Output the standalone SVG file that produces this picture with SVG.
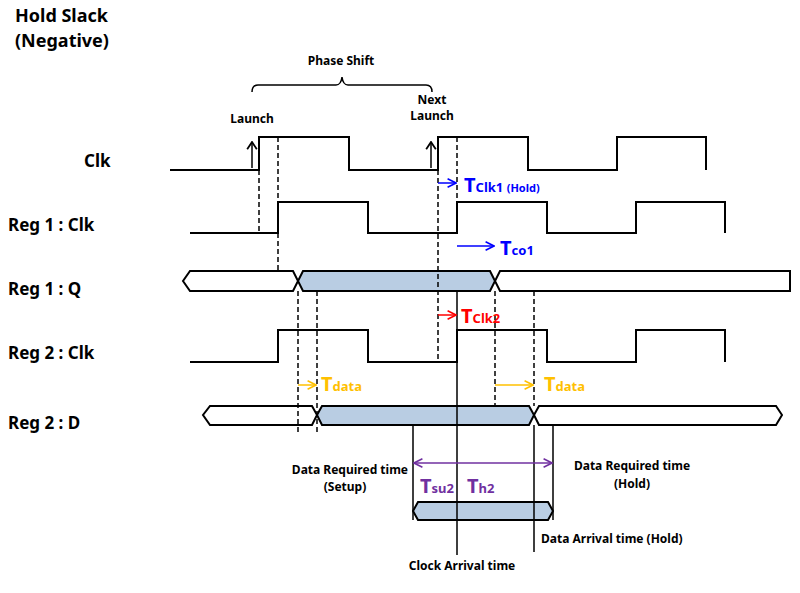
<svg xmlns="http://www.w3.org/2000/svg" width="800" height="593" viewBox="0 0 800 593">
<defs>
<style>
text{font-family:"Noto Sans","Liberation Sans",sans-serif;font-weight:bold}
.w{fill:none;stroke:#000;stroke-width:2}
.d{fill:none;stroke:#000;stroke-width:1.5;stroke-dasharray:5,3}
.s{fill:none;stroke:#000;stroke-width:1.5}
.bw{fill:#fff;stroke:#000;stroke-width:2}
.bb{fill:#b9cde3;stroke:#000;stroke-width:2}
.lab{font-size:17px}
.sm{font-size:12px}
</style>
<marker id="ab" viewBox="0 0 10 10" refX="9" refY="5" markerWidth="7" markerHeight="7" orient="auto"><path d="M1,1 L9,5 L1,9" fill="none" stroke="#0000ff" stroke-width="1.5"/></marker>
<marker id="ar" viewBox="0 0 10 10" refX="9" refY="5" markerWidth="7" markerHeight="7" orient="auto"><path d="M1,1 L9,5 L1,9" fill="none" stroke="#ff0000" stroke-width="1.5"/></marker>
<marker id="ao" viewBox="0 0 10 10" refX="9" refY="5" markerWidth="7" markerHeight="7" orient="auto"><path d="M1,1 L9,5 L1,9" fill="none" stroke="#ffc000" stroke-width="1.5"/></marker>
<marker id="ap" viewBox="0 0 10 10" refX="9" refY="5" markerWidth="7" markerHeight="7" orient="auto-start-reverse"><path d="M1,1 L9,5 L1,9" fill="none" stroke="#7030a0" stroke-width="1.5"/></marker>
<marker id="ak" viewBox="0 0 10 10" refX="5" refY="1" markerWidth="8" markerHeight="8" orient="0"><path d="M1,7 L5,1 L9,7" fill="none" stroke="#000" stroke-width="1.5"/></marker>
</defs>
<text x="15" y="22" font-size="18">Hold Slack</text>
<text x="15" y="47" font-size="18">(Negative)</text>
<g id="labels">
<text x="84" y="167" class="lab">Clk</text>
<text x="8" y="231" class="lab">Reg 1 : Clk</text>
<text x="8" y="295" class="lab">Reg 1 : Q</text>
<text x="8" y="359" class="lab">Reg 2 : Clk</text>
<text x="8" y="429" class="lab">Reg 2 : D</text>
</g>
<g id="phase">
<path class="s" d="M252,92 Q252,85 258,85 L336,85 Q341,85 342,77 Q343,85 348,85 L426,85 Q432,85 432,92"/>
<text x="341" y="65" class="sm" text-anchor="middle">Phase Shift</text>
<text x="252" y="123" class="sm" text-anchor="middle">Launch</text>
<text x="432" y="104" class="sm" text-anchor="middle">Next</text>
<text x="432" y="120" class="sm" text-anchor="middle">Launch</text>
</g>
<g id="waves">
<path class="w" d="M170,170 H259 V137 H349 V170 H438 V137 H528 V170 H617 V137 H706 V170"/>
<path class="w" d="M190,233 H278 V202 H368 V233 H457 V202 H547 V233 H636 V202 H725 V233"/>
<path class="w" d="M190,362 H278 V330 H368 V362 H457 V330 H547 V362 H636 V330 H725 V362"/>
<path class="bw" d="M190,271 H293 L298,281 L293,291 H190 L183,281 Z"/>
<path class="bb" d="M303,271 H490 L495,281 L490,291 H303 L298,281 Z"/>
<path class="bw" d="M500,271 H790 V291 H500 L495,281 Z"/>
<path class="bw" d="M210,406 H312 L317,415 L312,425 H210 L203,415 Z"/>
<path class="bb" d="M322,406 H529 L534,415 L529,425 H322 L317,415 Z"/>
<path class="bw" d="M539,406 H776 L782,415 L776,425 H539 L534,415 Z"/>
<path class="bb" d="M418,502 H548 L553,511 L548,520 H418 L413,511 Z"/>
</g>
<g id="connectors">
<path class="s" d="M252,168 V142" marker-end="url(#ak)"/>
<path class="s" d="M431,168 V142" marker-end="url(#ak)"/>
<path class="d" d="M259,170 V233 M278,137 V271 M298,291 V432 M317,291 V432 M438,170 V362 M457,137 V202 M495,291 V406 M534,291 V406"/>
<path class="s" d="M457,291 V555 M534,425 V552 M413,425 V520 M553,425 V520"/>
<path fill="none" stroke="#0000ff" stroke-width="1.5" d="M438,183 H456" marker-end="url(#ab)"/>
<path fill="none" stroke="#0000ff" stroke-width="1.5" d="M457,246 H494" marker-end="url(#ab)"/>
<path fill="none" stroke="#ff0000" stroke-width="1.5" d="M438,315 H456" marker-end="url(#ar)"/>
<path fill="none" stroke="#ffc000" stroke-width="1.5" d="M298,385 H316" marker-end="url(#ao)"/>
<path fill="none" stroke="#ffc000" stroke-width="1.5" d="M495,385 H533" marker-end="url(#ao)"/>
<path fill="none" stroke="#7030a0" stroke-width="1.5" d="M414,463 H552" marker-start="url(#ap)" marker-end="url(#ap)"/>
</g>
<g id="timing-labels">
<text x="464" y="192" fill="#0000ff" font-size="20">T<tspan font-size="13">Clk1 <tspan font-size="11">(Hold)</tspan></tspan></text>
<text x="500" y="255" fill="#0000ff" font-size="20">T<tspan font-size="13">co1</tspan></text>
<text x="461" y="323" fill="#ff0000" font-size="20">T<tspan font-size="13">Clk2</tspan></text>
<text x="321" y="391" fill="#ffc000" font-size="20">T<tspan font-size="13">data</tspan></text>
<text x="544" y="391" fill="#ffc000" font-size="20">T<tspan font-size="13">data</tspan></text>
<text x="420" y="493" fill="#7030a0" font-size="20">T<tspan font-size="13">su2</tspan></text>
<text x="467" y="493" fill="#7030a0" font-size="20">T<tspan font-size="13">h2</tspan></text>
</g>
<g id="notes">
<text x="408" y="474" class="sm" text-anchor="end">Data Required time</text>
<text x="345" y="491" class="sm" text-anchor="middle">(Setup)</text>
<text x="632" y="470" class="sm" text-anchor="middle">Data Required time</text>
<text x="632" y="488" class="sm" text-anchor="middle">(Hold)</text>
<text x="541" y="543" class="sm">Data Arrival time (Hold)</text>
<text x="462" y="570" class="sm" text-anchor="middle">Clock Arrival time</text>
</g>
</svg>
